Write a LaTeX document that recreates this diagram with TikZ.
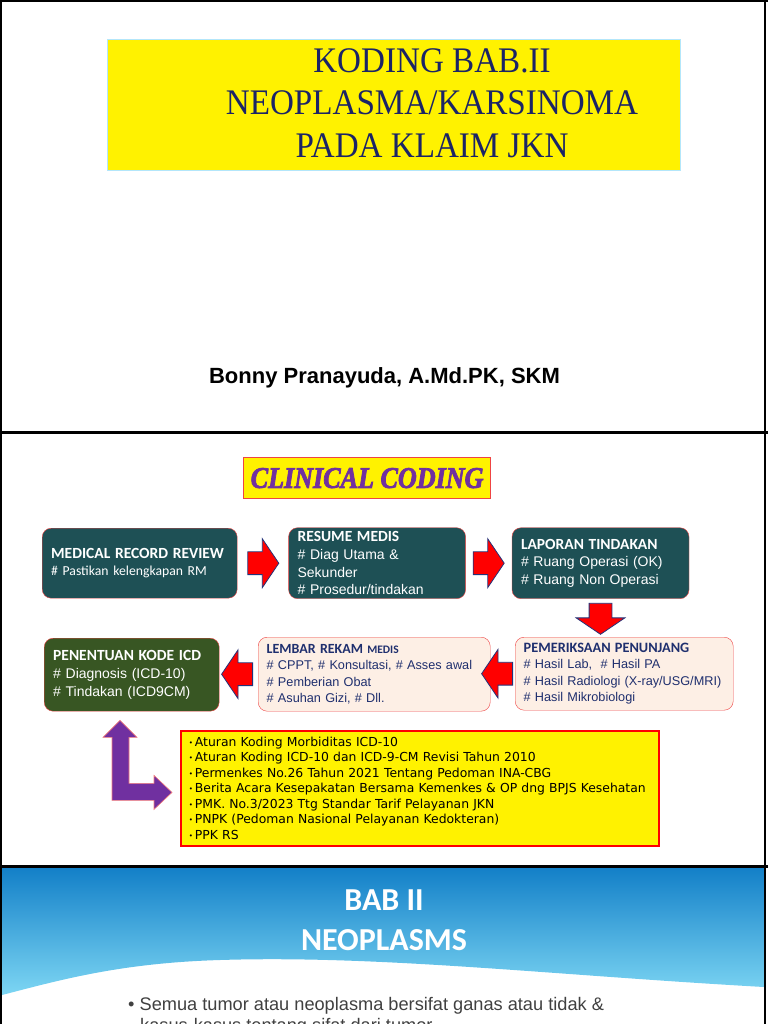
\documentclass[tikz,border=0pt]{standalone}
\usepackage{fontspec}
\setmainfont{Liberation Sans}
\newfontfamily\calibri{Carlito}
\newfontfamily\timesn[FakeStretch=0.92]{Liberation Serif}
\newfontfamily\wordart[FakeStretch=0.87,FakeBold=2.5]{Liberation Serif}
\newfontfamily\verd{DejaVu Sans}
\usetikzlibrary{positioning,calc,shapes.arrows}
\definecolor{navytxt}{HTML}{1B2466}
\definecolor{tealbox}{HTML}{1E5055}
\definecolor{olivebox}{HTML}{385623}
\definecolor{peach}{HTML}{FDEFE5}
\definecolor{boxedge}{HTML}{EE4444}
\definecolor{inktxt}{HTML}{1F2F6E}
\definecolor{wordpurple}{HTML}{7030A0}
\definecolor{arrowedge}{HTML}{23337A}
\definecolor{skytop}{HTML}{1380C8}
\definecolor{skybot}{HTML}{7DD6F3}
\definecolor{bodygray}{HTML}{404040}
\newcommand{\refbul}{\raisebox{1pt}{\scriptsize•}\,}

\begin{document}
\begin{tikzpicture}[x=1pt,y=-1pt,
  darkbox/.style={draw=boxedge,fill=tealbox,rounded corners=9pt,text=white,align=left,
    inner xsep=9pt,inner ysep=2pt,font=\fontsize{14}{17.7}\selectfont},
  lightbox/.style={draw=boxedge,fill=peach,rounded corners=9pt,text=inktxt,align=left,
    inner xsep=8.5pt,inner ysep=2pt,font=\fontsize{12.7}{16.3}\selectfont},
  redarrow/.style={single arrow,draw=arrowedge,fill=red,line width=0.8pt,inner xsep=0pt,inner ysep=11pt,
    minimum height=31pt,minimum width=48pt,single arrow head extend=13pt,single arrow tip angle=112},
  bendarrow/.style={fill=wordpurple,draw=boxedge!70,line width=0.6pt,line join=miter},
  head/.style={font=\calibri\bfseries}]
\useasboundingbox (0,0) rectangle (768,1024);
\clip (0,0) rectangle (768,1024);

% slide 1
\node (judulbox) [fill=yellow,draw=cyan!30,line width=0.8pt,anchor=north west,minimum width=573pt,minimum height=131pt,inner sep=0pt] at (107,39) {};
\node (judul) [anchor=north,align=center,inner sep=0pt,text=navytxt,font=\timesn\fontsize{36}{42.5}\selectfont] at (432,48)
  {KODING BAB.II\\NEOPLASMA/KARSINOMA\\PADA KLAIM JKN};
\node (penulis) [anchor=base,font=\bfseries\fontsize{22}{26}\selectfont] at (384.5,383) {Bonny Pranayuda, A.Md.PK, SKM};

% slide 2
\node (cc) [fill=yellow,draw=boxedge,line width=1.2pt,anchor=north west,minimum width=247pt,minimum height=41pt,inner sep=0pt,
  text=wordpurple,font=\wordart\bfseries\itshape\fontsize{30}{32}\selectfont] at (243,457) {CLINICAL CODING};

\node (mrr) [darkbox,anchor=north west,text width=177pt,minimum height=70pt] at (42,528)
  {{\calibri\bfseries\fontsize{15.5}{18}\selectfont MEDICAL RECORD REVIEW}\\{\calibri\fontsize{13.7}{15}\selectfont \# Pastikan kelengkapan RM}};
\node (res) [darkbox,right=51pt of mrr,text width=159pt,minimum height=71pt]
  {{\calibri\bfseries\fontsize{15.5}{18}\selectfont RESUME MEDIS}\\\# Diag Utama \&\\Sekunder\\\# Prosedur/tindakan};
\node (lap) [darkbox,right=46pt of res,text width=159pt,minimum height=71pt]
  {{\calibri\bfseries\fontsize{15.5}{18}\selectfont LAPORAN TINDAKAN}\\\# Ruang Operasi (OK)\\\# Ruang Non Operasi};

\node (icd) [darkbox,fill=olivebox,anchor=north west,text width=157pt,minimum height=73pt] at (44,638)
  {{\calibri\bfseries\fontsize{15.5}{18}\selectfont PENENTUAN KODE ICD}\\\# Diagnosis (ICD-10)\\\# Tindakan (ICD9CM)};
\node (lem) [lightbox,anchor=north west,text width=215pt,minimum height=74pt] at (258,637)
  {{\calibri\bfseries\fontsize{14}{16}\selectfont LEMBAR REKAM {\fontsize{11.5}{12}\selectfont MEDIS}}\\\# CPPT, \# Konsultasi, \# Asses awal\\\# Pemberian Obat\\\# Asuhan Gizi, \# Dll.};
\node (pem) [lightbox,anchor=north west,text width=201pt,minimum height=73pt] at (515,637)
  {{\calibri\bfseries\fontsize{14.3}{16}\selectfont PEMERIKSAAN PENUNJANG}\\\# Hasil Lab,~ \# Hasil PA\\\# Hasil Radiologi (X-ray/USG/MRI)\\\# Hasil Mikrobiologi};

\node (ref) [fill=yellow,draw=red,line width=1.5pt,anchor=north west,minimum width=478pt,minimum height=115pt,
  text width=462pt,inner xsep=8pt,align=left,font=\verd\fontsize{12.4}{15.5}\selectfont] at (180,730)
  {\refbul Aturan Koding Morbiditas ICD-10\\
   \refbul Aturan Koding ICD-10 dan ICD-9-CM Revisi Tahun 2010\\
   \refbul Permenkes No.26 Tahun 2021 Tentang Pedoman INA-CBG\\
   \refbul Berita Acara Kesepakatan Bersama Kemenkes \& OP dng BPJS Kesehatan\\
   \refbul PMK. No.3/2023 Ttg Standar Tarif Pelayanan JKN\\
   \refbul PNPK (Pedoman Nasional Pelayanan Kedokteran)\\
   \refbul PPK RS};

% block arrows between the boxes
\node (a1) [redarrow,right=10pt of mrr] {};
\node (a2) [redarrow,right=7pt of res] {};
\node (a3) [redarrow,shape border rotate=270,inner xsep=11pt,inner ysep=0pt,below=4pt of lap] {};
\node (a4) [redarrow,shape border rotate=180,left=2pt of pem] {};
\node (a5) [redarrow,shape border rotate=180,left=5pt of lem] {};
\draw[bendarrow] ($(icd.south west)+(76,9)$) -- ++(17,17) -- ++(-8,0) -- ++(0,46) -- ++(25,0) -- ++(0,-8)
  -- ++(18,17) -- ++(-18,17) -- ++(0,-9) -- ++(-42,0) -- ++(0,-63) -- ++(-9,0) -- cycle;

% slide 3
\shade[top color=skytop,bottom color=skybot] (2,868) -- (764,868) -- (764,987)
  .. controls (550,975) and (380,955) .. (220,960) .. controls (120,963) and (60,980) .. (2,995) -- cycle;
\node (bab) [anchor=base,text=white,font=\calibri\bfseries\fontsize{32}{36}\selectfont] at (384,910) {BAB II};
\node (neo) [anchor=base,text=white,font=\calibri\bfseries\fontsize{32}{36}\selectfont] at (384,950) {NEOPLASMS};
\node (isi) [anchor=base west,align=left,inner sep=0pt,text=bodygray,font=\fontsize{18.2}{21}\selectfont] at (128,1031)
  {\textbullet\ Semua tumor atau neoplasma bersifat ganas atau tidak \&\\\hspace*{12pt}kasus-kasus tentang sifat dari tumor};

% slide frames
\draw[line width=2pt] (0,1) -- (768,1);
\draw[line width=2pt] (1,0) -- (1,1024);
\draw[line width=2pt] (765,0) -- (765,1024);
\draw[line width=3pt] (0,432.5) -- (768,432.5);
\draw[line width=3pt] (0,866) -- (768,866);
\end{tikzpicture}
\end{document}
